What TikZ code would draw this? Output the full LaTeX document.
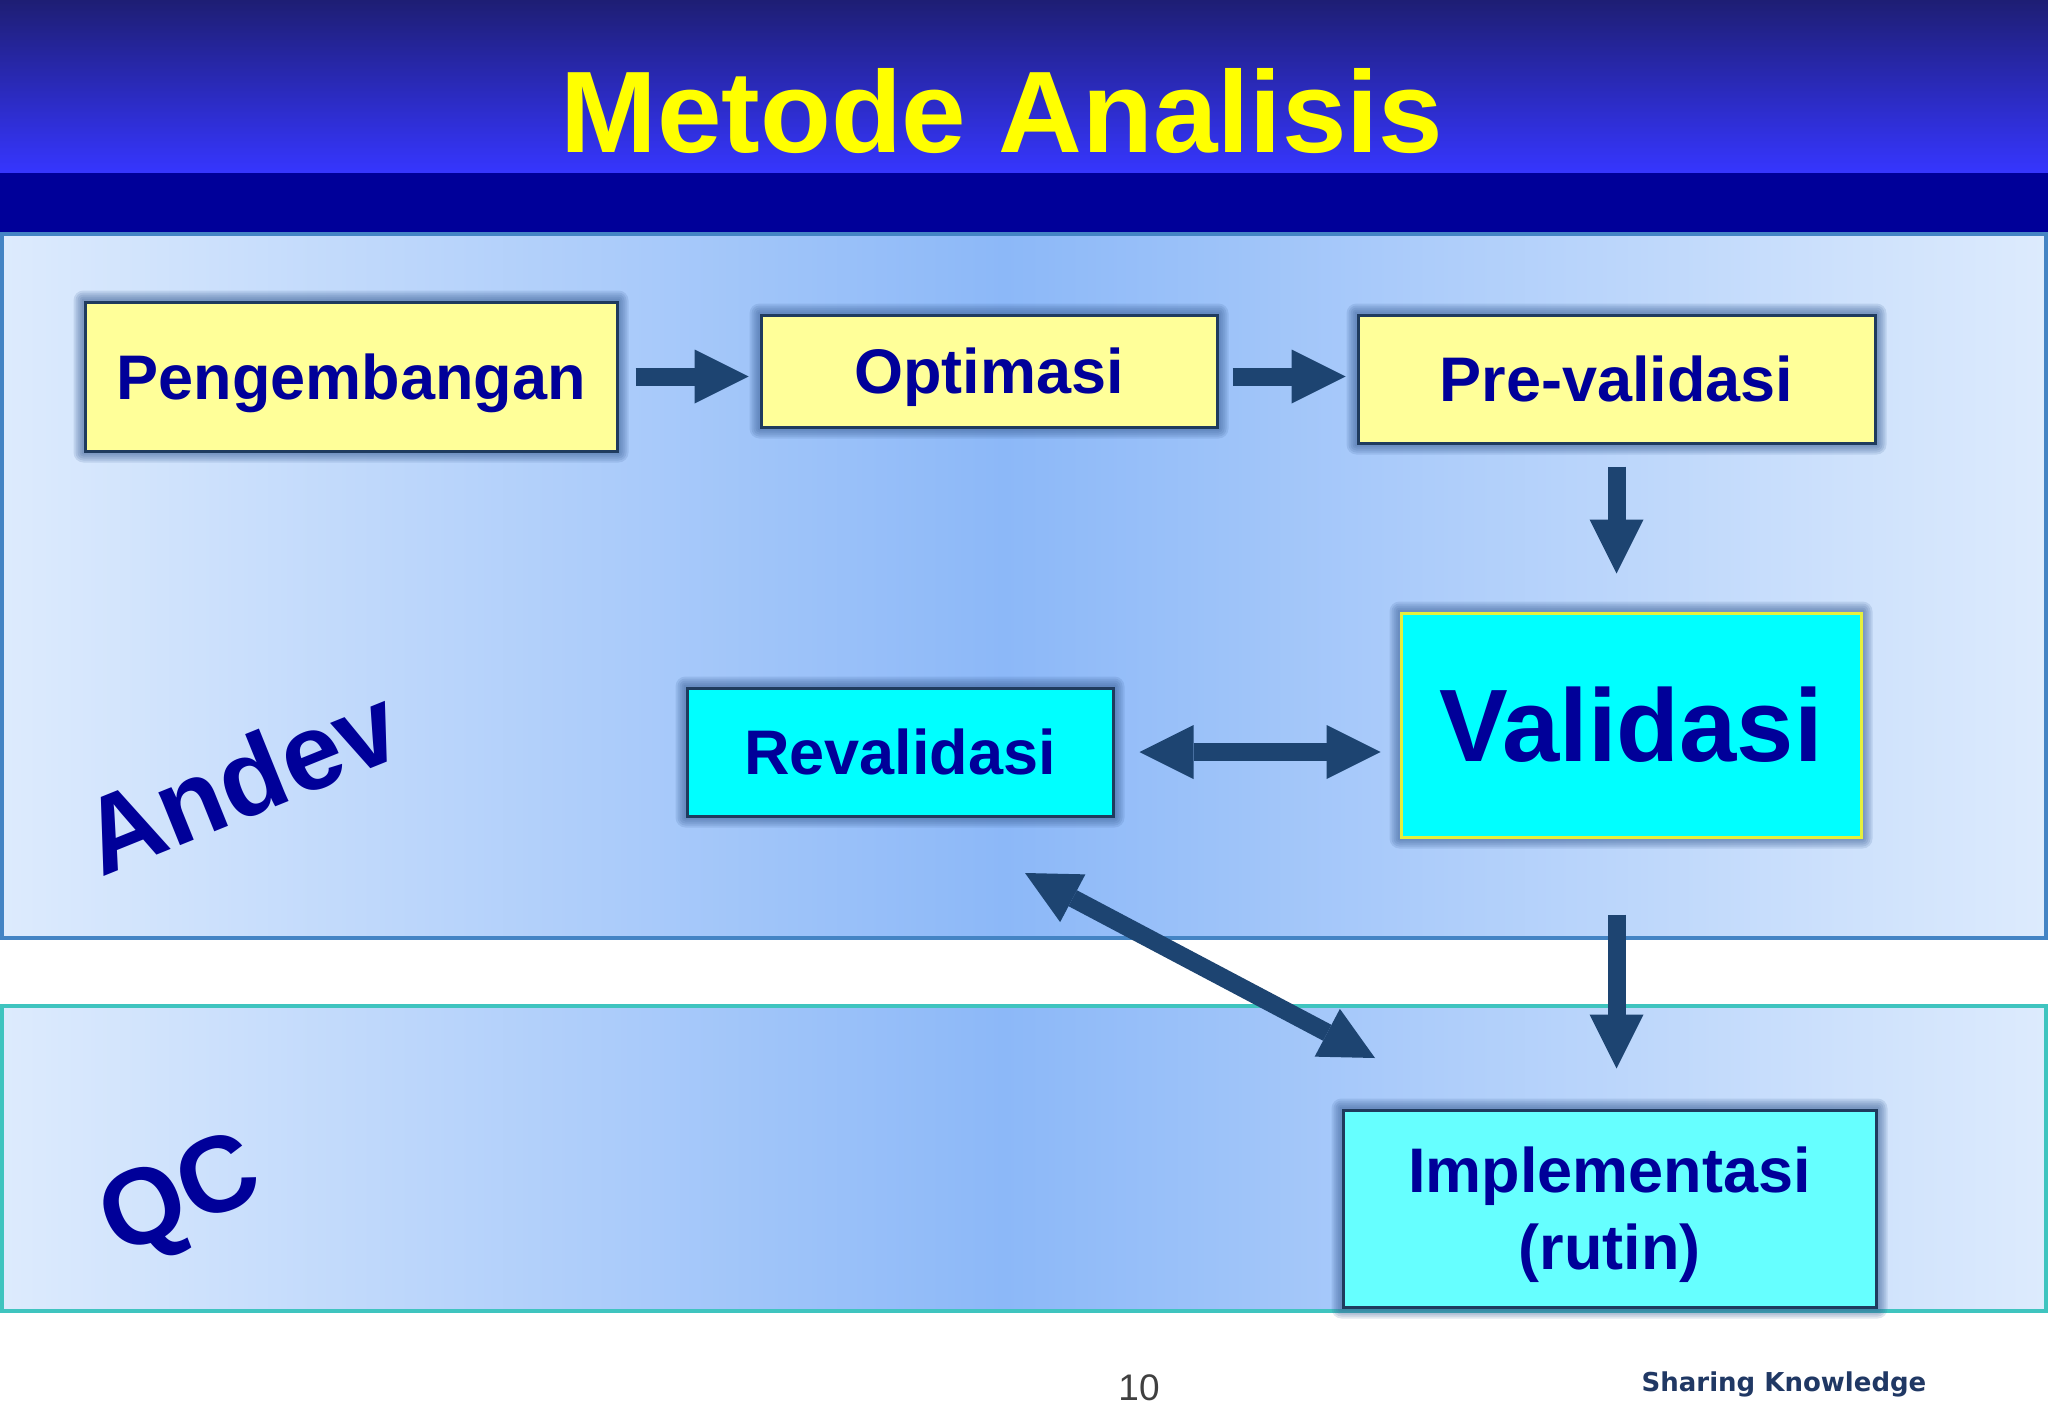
\documentclass[tikz,border=0pt]{standalone}
\usepackage{fontspec}
\setmainfont{Liberation Sans}
\newfontfamily\verdfont{DejaVu Sans}
\usetikzlibrary{arrows.meta}
\definecolor{plight}{HTML}{DDEBFD}
\definecolor{pdark}{HTML}{8CB8F8}
\definecolor{tbtop}{HTML}{1E1E74}
\definecolor{tbbot}{HTML}{3636FF}
\definecolor{navyband}{HTML}{000099}
\definecolor{navytxt}{HTML}{000099}
\definecolor{boxline}{HTML}{1F3B5E}
\definecolor{yfill}{HTML}{FFFF99}
\definecolor{cfill}{HTML}{00FFFF}
\definecolor{ctwofill}{HTML}{66FFFF}
\definecolor{shadowcol}{HTML}{3A5F96}
\definecolor{valline}{HTML}{E6F03C}
\definecolor{arrcol}{HTML}{1D4471}
\definecolor{andevline}{HTML}{4484C4}
\definecolor{qcline}{HTML}{3FC4BF}
\definecolor{titleyel}{HTML}{FFFF00}
\definecolor{pagenum}{HTML}{404040}
\definecolor{sharecol}{HTML}{203864}
\pgfdeclarehorizontalshading{panelshade}{100bp}{color(0bp)=(plight); color(25bp)=(plight); color(49.5bp)=(pdark); color(75bp)=(plight); color(100bp)=(plight)}
\pgfdeclarelayer{bg}
\pgfdeclarelayer{mid}
\pgfsetlayers{bg,mid,main}
\newcommand\boxglow[1]{%
  \begin{pgfonlayer}{mid}
    \foreach \s in {1,...,5}{%
      \fill[shadowcol,opacity=0.15,rounded corners=\s pt]
        ([xshift=-\s pt,yshift=-\s pt]#1.south west) rectangle ([xshift=\s pt,yshift=\s pt]#1.north east);}
  \end{pgfonlayer}}
\tikzset{
  boxbase/.style={draw=boxline, line width=1.5pt, inner sep=0pt, text=navytxt,
    font=\fontsize{31.5}{38.5}\selectfont\bfseries, align=center},
  capline/.style={text height=22.6pt, text depth=0pt},
  ybox/.style={boxbase, fill=yfill, capline},
  cbox/.style={boxbase, fill=cfill, capline},
  bigarr/.style={draw=arrcol, line width=9pt, -{Triangle[length=27pt,width=27pt,line width=0pt]}},
  dblarr/.style={draw=arrcol, line width=9pt, {Triangle[length=27pt,width=27pt,line width=0pt]}-{Triangle[length=27pt,width=27pt,line width=0pt]}},
  sidelabel/.style={text=navytxt, font=\fontsize{54}{60}\selectfont\bfseries, inner sep=0pt}
}
\begin{document}
\begin{tikzpicture}[x=0.5pt,y=-0.5pt]
\useasboundingbox (0,0) rectangle (2048,1418);
\begin{pgfonlayer}{bg}
  \fill[white] (0,0) rectangle (2048,1418);
  \shade[top color=tbtop, bottom color=tbbot] (0,0) rectangle (2048,173);
  \fill[navyband] (0,173) rectangle (2048,232);
  \shade[shading=panelshade, draw=andevline, line width=2pt] (2,234) rectangle (2046,938);
  \shade[shading=panelshade, draw=qcline, line width=2pt] (2,1006) rectangle (2046,1311);
\end{pgfonlayer}

% title
\node[text=titleyel, font=\fontsize{58}{66}\selectfont\bfseries, inner sep=0pt,
  text height=41.5pt, text depth=0pt] (title) at (1002,111) {Metode Analisis};

% boxes
\node[ybox, minimum width=266pt, minimum height=74.5pt] (pe) at (351,376.5) {Pengembangan};
\node[ybox, minimum width=228pt, minimum height=56pt] (op) at (989,371) {Optimasi};
\node[ybox, minimum width=258.5pt, minimum height=64pt] (pre) at (1616.5,379) {Pre-validasi};
\node[cbox, draw=valline, minimum width=230pt, minimum height=112pt,
  font=\fontsize{51.5}{60}\selectfont\bfseries, text height=36.9pt] (val) at (1631,725) {Validasi};
\node[cbox, minimum width=213pt, minimum height=64pt] (rev) at (900,752) {Revalidasi};
\node[boxbase, fill=ctwofill, minimum width=266.5pt, minimum height=98.5pt, text depth=0pt]
  (imp) at (1609.5,1208.5) {Implementasi\\(rutin)};

\boxglow{pe}
\boxglow{op}
\boxglow{pre}
\boxglow{val}
\boxglow{rev}
\boxglow{imp}

% side labels
\node[sidelabel, rotate=22] (andev) at (240,780) {Andev};
\node[sidelabel, rotate=22] (qc) at (182,1201) {QC};

% arrows
\draw[bigarr, shorten <=8.5pt, shorten >=5.5pt] (pe.east) -- (pe.east -| op.west);
\draw[bigarr, shorten <=7pt, shorten >=5.5pt] (op.east |- pe.east) -- (pre.west |- pe.east);
\draw[bigarr, shorten <=11pt, shorten >=19pt] (pre.south) -- (pre.south |- val.north);
\draw[dblarr, shorten <=12.5pt, shorten >=9.5pt] (rev.east) -- (rev.east -| val.west);
\draw[bigarr, shorten <=38pt, shorten >=20pt] (val.south -| pre.south) -- (imp.north -| pre.south);
\coordinate (d1) at (1025,873);
\coordinate (d2) at (1375,1058);
\draw[dblarr] (d1) -- (d2);

% footer
\node[text=pagenum, font=\fontsize{18.5}{22}\selectfont, inner sep=0pt, text height=13.3pt, text depth=0pt] (pg) at (1139,1387) {10};
\node[text=sharecol, font=\verdfont\fontsize{13}{15}\selectfont\bfseries, inner sep=0pt, text height=9.4pt, text depth=0pt] (sk) at (1784,1382) {Sharing Knowledge};
\end{tikzpicture}
\end{document}
